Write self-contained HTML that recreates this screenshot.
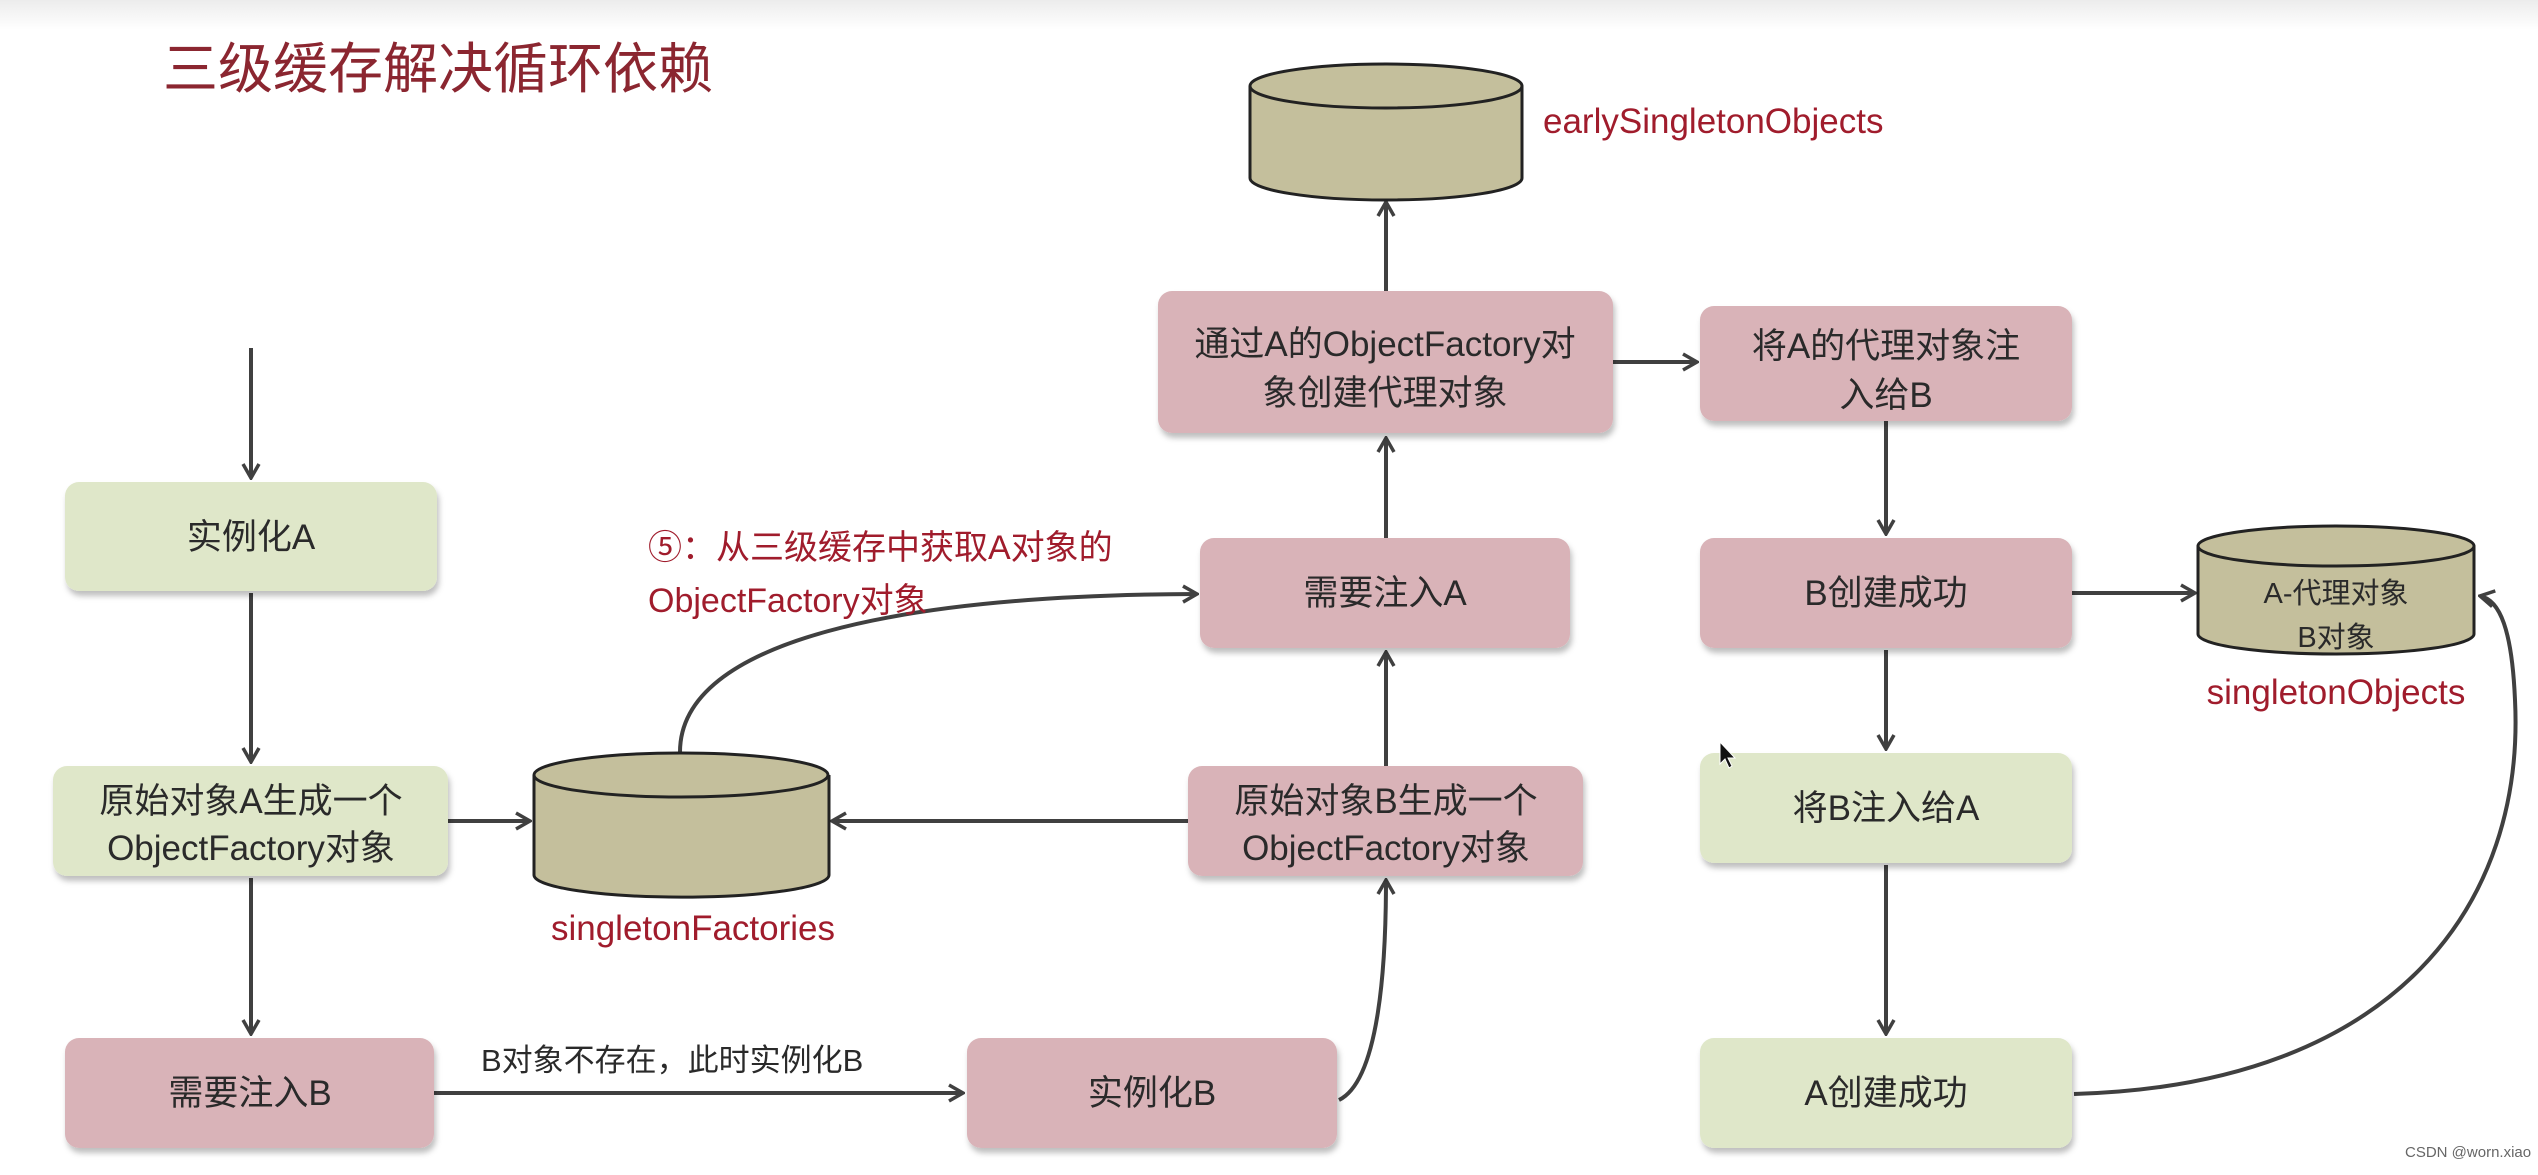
<!DOCTYPE html>
<html><head><meta charset="utf-8">
<style>
html,body{margin:0;padding:0;background:#fff;}
body{width:2538px;height:1170px;overflow:hidden;font-family:"Liberation Sans","Noto Sans CJK SC",sans-serif;}
svg text{font-family:"Liberation Sans","Noto Sans CJK SC",sans-serif;}
</style></head>
<body>
<svg width="2538" height="1170" viewBox="0 0 2538 1170" xmlns="http://www.w3.org/2000/svg">
<defs>
<linearGradient id="top" x1="0" y1="0" x2="0" y2="1">
<stop offset="0" stop-color="#ececec"/><stop offset="1" stop-color="#ffffff"/>
</linearGradient>
<filter id="sh" x="-10%" y="-10%" width="125%" height="135%">
<feDropShadow dx="2" dy="5" stdDeviation="3" flood-color="#000" flood-opacity="0.25"/>
</filter>
<marker id="ar" viewBox="0 0 20 20" refX="18" refY="10" markerWidth="20" markerHeight="20" markerUnits="userSpaceOnUse" orient="auto">
<path d="M4,2 L18,10 L4,18" fill="none" stroke="#404040" stroke-width="3.5"/>
</marker>
</defs>
<rect x="0" y="0" width="2538" height="30" fill="url(#top)"/>
<text x="163" y="88" font-size="55" fill="#8b2630">三级缓存解决循环依赖</text>

<g stroke="#404040" stroke-width="4" fill="none" marker-end="url(#ar)">
<path d="M251,348 V478"/>
<path d="M251,593 V762"/>
<path d="M251,878 V1034"/>
<path d="M448,821 H530"/>
<path d="M434,1093 H963"/>
<path d="M1339,1100 C1380,1080 1386,960 1386,880"/>
<path d="M1188,821 H832"/>
<path d="M1386,766 V652"/>
<path d="M1386,538 V438"/>
<path d="M1386,291 V202"/>
<path d="M680,752 C680,640 900,595 1197,594"/>
<path d="M1613,362 H1697"/>
<path d="M1886,421 V534"/>
<path d="M1886,650 V749"/>
<path d="M1886,865 V1034"/>
<path d="M2072,593 H2195"/>
<path d="M2074,1094 C2400,1085 2525,900 2515,700 C2512,630 2500,600 2480,596"/>
</g>

<g filter="url(#sh)">
<rect x="65" y="482" width="372" height="109" rx="14" fill="#dfe7c9"/>
<rect x="53" y="766" width="395" height="110" rx="14" fill="#dfe7c9"/>
<rect x="65" y="1038" width="369" height="110" rx="14" fill="#d9b3b8"/>
<rect x="967" y="1038" width="370" height="110" rx="14" fill="#d9b3b8"/>
<rect x="1188" y="766" width="395" height="110" rx="14" fill="#d9b3b8"/>
<rect x="1200" y="538" width="370" height="110" rx="14" fill="#d9b3b8"/>
<rect x="1158" y="291" width="455" height="142" rx="14" fill="#d9b3b8"/>
<rect x="1700" y="306" width="372" height="115" rx="14" fill="#d9b3b8"/>
<rect x="1700" y="538" width="372" height="110" rx="14" fill="#d9b3b8"/>
<rect x="1700" y="753" width="372" height="110" rx="14" fill="#dfe7c9"/>
<rect x="1700" y="1038" width="372" height="110" rx="14" fill="#dfe7c9"/>
</g>

<g fill="#c4bf9c" stroke="#222" stroke-width="3">
<path d="M534,775 V875 A147,22 0 0 0 829,875 V775"/>
<ellipse cx="681" cy="775" rx="147" ry="22"/>
<path d="M1250,86 V178 A136,22 0 0 0 1522,178 V86"/>
<ellipse cx="1386" cy="86" rx="136" ry="22"/>
<path d="M2198,546 V634 A138,20 0 0 0 2474,634 V546"/>
<ellipse cx="2336" cy="546" rx="138" ry="20"/>
</g>

<g font-size="35" fill="#2a2a2a" text-anchor="middle">
<text x="251" y="549">实例化A</text>
<text x="251" y="813">原始对象A生成一个</text>
<text x="251" y="860">ObjectFactory对象</text>
<text x="250" y="1105">需要注入B</text>
<text x="1152" y="1105">实例化B</text>
<text x="1386" y="813">原始对象B生成一个</text>
<text x="1386" y="860">ObjectFactory对象</text>
<text x="1385" y="605">需要注入A</text>
<text x="1385" y="356">通过A的ObjectFactory对</text>
<text x="1385" y="405">象创建代理对象</text>
<text x="1886" y="358">将A的代理对象注</text>
<text x="1886" y="407">入给B</text>
<text x="1886" y="605">B创建成功</text>
<text x="1886" y="820">将B注入给A</text>
<text x="1886" y="1105">A创建成功</text>
<text x="2336" y="603" font-size="29">A-代理对象</text>
<text x="2336" y="647" font-size="29">B对象</text>
</g>
<text x="481" y="1071" font-size="31" fill="#2a2a2a">B对象不存在，此时实例化B</text>

<g font-size="34" fill="#a01c2c">
<text x="648" y="559">⑤：从三级缓存中获取A对象的</text>
<text x="648" y="612">ObjectFactory对象</text>
<text x="693" y="940" text-anchor="middle" font-size="35">singletonFactories</text>
<text x="1543" y="133" font-size="35">earlySingletonObjects</text>
<text x="2336" y="704" text-anchor="middle" font-size="35">singletonObjects</text>
</g>
<path d="M1720,742 L1720,764 L1725,759 L1729,768 L1732,766 L1728,758 L1735,758 Z" fill="#111" stroke="#fff" stroke-width="1"/>
<text x="2405" y="1157" font-size="15" fill="#666">CSDN @worn.xiao</text>
</svg>
</body></html>
